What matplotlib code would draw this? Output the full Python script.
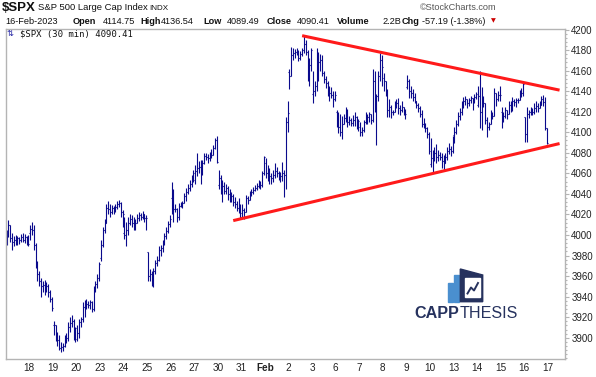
import numpy as np
import matplotlib.pyplot as plt
from matplotlib.patches import Polygon, Rectangle

# 30-min OHLC bars, 13 per session, Jan 17 - Feb 16 2023
day_labels = ['', '18', '19', '20', '23', '24', '25', '26', '27', '30', '31', 'Feb',
              '2', '3', '6', '7', '8', '9', '10', '13', '14', '15', '16', '17']
day_opens = [3999, 4002, 3912, 3909, 3978, 4002, 3983, 4036, 4054, 4049, 4021, 4070,
             4159, 4137, 4120, 4105, 4153, 4144, 4069, 4097, 4127, 4120, 4115]

highs = [
    4005, 4015, 4010, 4002, 3999, 4000, 3999, 3998, 4001, 4002, 4001, 3999, 4000,
    4010, 4013, 4010, 3992, 3975, 3965, 3958, 3955, 3956, 3954, 3952, 3946, 3940,
    3916, 3912, 3906, 3903, 3896, 3895, 3903, 3905, 3915, 3920, 3922, 3918, 3910,
    3912, 3918, 3920, 3935, 3937, 3938, 3936, 3937, 3936, 3950, 3955, 3962, 3974,
    3995, 4008, 4016, 4030, 4033, 4030, 4029, 4028, 4030, 4033, 4034, 4032, 4024,
    4018, 4013, 4018, 4020, 4019, 4018, 4016, 4020, 4022, 4021, 4023, 4020, 4019,
    3983, 3967, 3965, 3968, 3976, 3980, 3989, 3990, 3995, 4002, 4008, 4014, 4019,
    4052, 4045, 4030, 4026, 4031, 4032, 4033, 4041, 4046, 4050, 4054, 4058, 4063,
    4068, 4080, 4072, 4073, 4073, 4080, 4080, 4079, 4081, 4084, 4088, 4094, 4096,
    4063, 4058, 4054, 4052, 4050, 4048, 4045, 4042, 4040, 4037, 4033, 4036, 4030,
    4030, 4026, 4039, 4038, 4043, 4045, 4047, 4049, 4051, 4054, 4053, 4062, 4077,
    4075, 4068, 4065, 4060, 4063, 4070, 4066, 4062, 4061, 4071, 4063, 4115, 4130,
    4162, 4183, 4182, 4181, 4182, 4180, 4179, 4182, 4195, 4190, 4180, 4172, 4182,
    4160, 4150, 4182, 4178, 4176, 4175, 4160, 4155, 4150, 4145, 4144, 4140, 4140,
    4122, 4120, 4118, 4116, 4118, 4125, 4123, 4116, 4114, 4117, 4120, 4116, 4113,
    4110, 4105, 4112, 4120, 4118, 4120, 4118, 4162, 4160, 4137, 4160, 4177, 4175,
    4158, 4150, 4142, 4132, 4127, 4122, 4130, 4132, 4133, 4127, 4130, 4125, 4123,
    4156, 4152, 4145, 4142, 4138, 4130, 4128, 4126, 4122, 4114, 4109, 4105, 4100,
    4094, 4083, 4086, 4089, 4083, 4081, 4080, 4078, 4080, 4086, 4090, 4087, 4096,
    4105, 4112, 4120, 4124, 4130, 4134, 4135, 4132, 4133, 4135, 4132, 4137, 4139,
    4145, 4160, 4144, 4135, 4128, 4115, 4110, 4122, 4120, 4143, 4138, 4140, 4145,
    4125, 4120, 4125, 4122, 4130, 4130, 4134, 4132, 4133, 4133, 4141, 4143, 4148,
    4115, 4125, 4122, 4125, 4124, 4128, 4130, 4128, 4130, 4135, 4136, 4134, 4104,
]
lows = [
    3990, 3998, 3993, 3985, 3989, 3990, 3990, 3991, 3993, 3993, 3992, 3990, 3989,
    3995, 4000, 3985, 3968, 3955, 3950, 3940, 3945, 3942, 3945, 3940, 3935, 3926,
    3903, 3897, 3892, 3888, 3886, 3887, 3891, 3895, 3897, 3906, 3910, 3898, 3896,
    3897, 3900, 3910, 3915, 3920, 3928, 3929, 3928, 3925, 3926, 3945, 3948, 3955,
    3975, 3988, 4002, 4012, 4020, 4018, 4020, 4020, 4022, 4025, 4027, 4018, 4008,
    3996, 3989, 4000, 4010, 4008, 4005, 4005, 4012, 4014, 4015, 4016, 4013, 4005,
    3955, 3955, 3950, 3949, 3962, 3970, 3975, 3980, 3983, 3990, 3996, 4002, 4008,
    4020, 4013, 4022, 4013, 4015, 4027, 4026, 4031, 4033, 4040, 4043, 4047, 4052,
    4050, 4057, 4060, 4050, 4058, 4069, 4073, 4070, 4072, 4075, 4078, 4084, 4070,
    4045, 4040, 4032, 4040, 4040, 4034, 4032, 4032, 4028, 4026, 4023, 4021, 4016,
    4017, 4016, 4022, 4030, 4034, 4038, 4040, 4043, 4044, 4046, 4045, 4047, 4058,
    4055, 4053, 4050, 4050, 4052, 4055, 4056, 4054, 4052, 4053, 4037, 4045, 4100,
    4142, 4155, 4170, 4172, 4175, 4169, 4170, 4174, 4177, 4175, 4150, 4145, 4160,
    4128, 4135, 4140, 4150, 4160, 4155, 4148, 4143, 4135, 4130, 4133, 4125, 4130,
    4105, 4099, 4096, 4093, 4108, 4110, 4105, 4107, 4106, 4106, 4106, 4103, 4101,
    4096, 4096, 4100, 4108, 4108, 4110, 4108, 4110, 4120, 4088, 4130, 4150, 4145,
    4140, 4135, 4115, 4115, 4114, 4117, 4120, 4124, 4118, 4117, 4120, 4117, 4113,
    4142, 4133, 4133, 4130, 4128, 4124, 4120, 4115, 4105, 4104, 4100, 4094, 4079,
    4066, 4061, 4072, 4070, 4072, 4073, 4065, 4062, 4070, 4073, 4079, 4077, 4080,
    4090, 4098, 4106, 4112, 4117, 4124, 4127, 4124, 4126, 4128, 4122, 4128, 4132,
    4125, 4104, 4102, 4125, 4108, 4095, 4102, 4108, 4113, 4118, 4126, 4130, 4130,
    4104, 4110, 4114, 4113, 4120, 4120, 4121, 4126, 4125, 4128, 4131, 4134, 4135,
    4091, 4091, 4114, 4117, 4117, 4118, 4120, 4120, 4124, 4128, 4126, 4102, 4089,
]
closes = [
    3999, 4010, 3997, 3993, 3995, 3993, 3997, 3995, 3998, 3995, 3998, 3994, 3991,
    4006, 4005, 3990, 3972, 3962, 3955, 3950, 3951, 3946, 3950, 3945, 3938, 3929,
    3912, 3900, 3898, 3890, 3891, 3892, 3899, 3900, 3910, 3914, 3916, 3905, 3899,
    3905, 3915, 3918, 3930, 3930, 3933, 3932, 3935, 3928, 3946, 3952, 3958, 3972,
    3990, 4005, 4012, 4026, 4025, 4022, 4026, 4024, 4027, 4030, 4031, 4022, 4020,
    4000, 4005, 4012, 4016, 4012, 4010, 4012, 4017, 4019, 4018, 4020, 4017, 4017,
    3960, 3962, 3958, 3965, 3973, 3976, 3985, 3987, 3992, 3999, 4004, 4011, 4016,
    4030, 4025, 4025, 4018, 4028, 4030, 4031, 4038, 4042, 4046, 4050, 4055, 4060,
    4062, 4065, 4066, 4068, 4070, 4077, 4076, 4075, 4079, 4078, 4085, 4092, 4071,
    4055, 4045, 4048, 4043, 4046, 4040, 4036, 4038, 4032, 4030, 4026, 4028, 4018,
    4024, 4022, 4036, 4034, 4040, 4042, 4044, 4046, 4048, 4050, 4049, 4060, 4076,
    4060, 4062, 4057, 4055, 4058, 4062, 4060, 4058, 4057, 4060, 4058, 4110, 4119,
    4155, 4175, 4177, 4178, 4177, 4172, 4176, 4180, 4186, 4178, 4160, 4165, 4180,
    4140, 4145, 4172, 4168, 4170, 4158, 4152, 4148, 4140, 4138, 4136, 4132, 4136,
    4112, 4105, 4100, 4108, 4114, 4118, 4110, 4112, 4109, 4112, 4115, 4108, 4111,
    4100, 4102, 4110, 4116, 4115, 4118, 4112, 4150, 4125, 4135, 4155, 4170, 4164,
    4150, 4140, 4122, 4125, 4120, 4120, 4126, 4128, 4124, 4122, 4125, 4120, 4118,
    4150, 4140, 4138, 4134, 4130, 4127, 4124, 4118, 4108, 4108, 4104, 4098, 4082,
    4075, 4075, 4080, 4076, 4078, 4076, 4072, 4070, 4076, 4082, 4084, 4082, 4091,
    4100, 4108, 4116, 4120, 4127, 4130, 4132, 4128, 4131, 4133, 4130, 4134, 4137,
    4135, 4120, 4130, 4128, 4112, 4105, 4108, 4118, 4116, 4138, 4132, 4136, 4136,
    4115, 4116, 4122, 4118, 4127, 4126, 4130, 4129, 4131, 4131, 4139, 4138, 4147,
    4098, 4118, 4120, 4121, 4120, 4124, 4126, 4124, 4127, 4132, 4129, 4104, 4090,
]

# trendlines drawn on the chart (bar index, price)
upper_line = ([163, 305], [4194, 4141])
lower_line = ([125, 305], [4014, 4089])

bars_per_day = 13
W, H = 596, 377
bar_color = '#0a0a8c'
frame_color = '#b4b4b4'

n = len(closes)
x = np.arange(n)
opens = np.r_[closes[0], closes[:-1]].astype(float)
opens[::bars_per_day] = day_opens
highs = np.array(highs, float)
lows = np.array(lows, float)
closes = np.array(closes, float)

plt.rcParams['font.family'] = ['Liberation Sans', 'DejaVu Sans']

fig = plt.figure(figsize=(W / 100, H / 100), dpi=100)
ax = fig.add_axes([5.7 / W, 1 - 359 / H, (565 - 5.7) / W, (359 - 29) / H])

# OHLC bars
top = np.maximum(highs, np.maximum(opens, closes))
bot = np.minimum(lows, np.minimum(opens, closes))
ax.vlines(x, bot, top, color=bar_color, lw=0.8)
ax.hlines(opens, x - 0.55, x, color=bar_color, lw=0.8)
ax.hlines(closes, x, x + 0.55, color=bar_color, lw=0.8)

# trendlines
ax.plot(upper_line[0], upper_line[1], color='#ff1a1a', lw=2.2, solid_capstyle='butt')
ax.plot(lower_line[0], lower_line[1], color='#ff1a1a', lw=2.2, solid_capstyle='butt')

ax.set_xlim(-0.5, 308)
ax.set_ylim(3879.3, 4200.5)

# axes styling
for s in ax.spines.values():
    s.set_color(frame_color)
    s.set_linewidth(1.0)
ax.yaxis.tick_right()
ax.set_yticks(np.arange(3900, 4201, 20))
ax.set_yticks(np.arange(3880, 4201, 4), minor=True)
ax.tick_params(axis='y', which='major', length=3, width=0.8, color=frame_color,
               labelsize=7, pad=1.5, labelcolor='#222222')
ax.tick_params(axis='y', which='minor', length=1.5, width=0.8, color=frame_color)
ticks = np.arange(len(day_labels)) * bars_per_day - 0.5
ax.set_xticks(ticks[1:])
ax.set_xticklabels(day_labels[1:])
ax.tick_params(axis='x', length=0, labelsize=7.2, pad=3, labelcolor='#222222')
for lab in ax.get_xticklabels():
    if lab.get_text() == 'Feb':
        lab.set_fontweight('bold')


def fx(px):
    return px / W


def fy(py):
    return 1 - py / H


# header lines
fig.text(fx(2), fy(8), '$SPX', fontsize=9.5, fontweight='bold', va='center', color='#111111')
fig.text(fx(38), fy(8), 'S&P 500 Large Cap Index', fontsize=6.8, va='center', color='#111111')
fig.text(fx(149), fy(8), 'INDX', fontsize=5.8, va='center', color='#111111')
fig.text(fx(496), fy(8), '\u00a9StockCharts.com', fontsize=6.6, va='center',
         ha='right', color='#555555')

row2 = [(5, '16-Feb-2023', 'normal'), (73, 'Open', 'bold'), (103, '4114.75', 'normal'),
        (140, 'High', 'bold'), (161, '4136.54', 'normal'), (203, 'Low', 'bold'),
        (227, '4089.49', 'normal'), (267, 'Close', 'bold'), (297, '4090.41', 'normal'),
        (337, 'Volume', 'bold'), (382, '2.2B', 'normal'), (402, 'Chg', 'bold'),
        (422, '-57.19 (-1.38%)', 'normal')]
for px, txt, wt in row2:
    fig.text(fx(px), fy(22), txt, fontsize=6.6, fontweight=wt, va='center', color='#111111')
fig.text(fx(491), fy(21), '\u25bc', fontsize=4.5, va='center', color='#cc0000',
         family='DejaVu Sans')

# legend inside chart
fig.text(fx(7), fy(34), '\u21c5', fontsize=6, va='center', color='#1a1aa0', family='DejaVu Sans')
fig.text(fx(20), fy(34.5), '$SPX (30 min) 4090.41', fontsize=6.4, va='center',
         color='#111111', family='DejaVu Sans Mono')

# CAPPTHESIS watermark
navy = '#26325e'
light = '#4a8fcf'


def P(px, py):
    return (fx(px), fy(py))


fig.patches.append(Rectangle(P(448.3, 301.7), fx(5), 19 / H, color=light, transform=fig.transFigure))
fig.patches.append(Rectangle(P(454.3, 301.7), fx(4.4), 26.4 / H, color=light, transform=fig.transFigure))
fig.patches.append(Polygon([P(460.3, 269), P(482.7, 275), P(482.7, 301.7), P(460.3, 301.7)],
                           closed=True, color=navy, transform=fig.transFigure))
fig.patches.append(Rectangle(P(465.3, 296.8), fx(14.5), 18.5 / H, color='white',
                             transform=fig.transFigure))
fig.lines.append(plt.Line2D([fx(467.5), fx(471), fx(474), fx(478)],
                            [fy(293.5), fy(287.5), fy(290.5), fy(283)], color=navy, lw=1.4,
                            transform=fig.transFigure))
fig.text(fx(414), fy(313.5), 'CAPP', fontsize=11.6, fontweight='bold', va='center', color=navy)
fig.text(fx(459.5), fy(313.5), 'THESIS', fontsize=11.6, va='center', color=navy)

fig.savefig('out.png', dpi=100)
